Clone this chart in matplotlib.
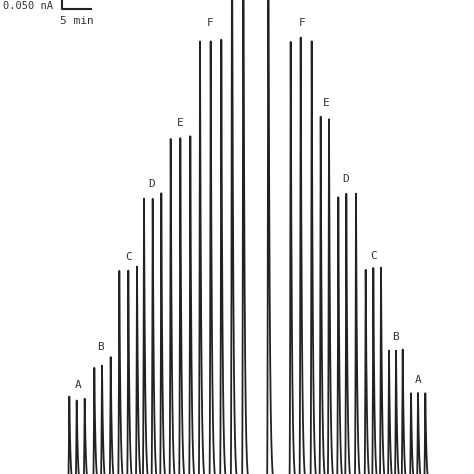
import numpy as np
import matplotlib
matplotlib.use("Agg")
import matplotlib.pyplot as plt

# peak retention positions (chart x units) and heights (above baseline)
peak_times = [69.3, 76.7, 84.7, 94.3, 102.0, 110.7, 119.3, 128.3, 137.0,
              144.0, 152.7, 161.3, 170.7, 180.3, 190.3, 200.0, 210.7, 221.3,
              232.0, 243.3, 268.3,
              290.7, 300.7, 311.7, 320.7, 329.0, 338.3, 346.3, 356.0,
              365.7, 373.3, 381.0, 389.0, 396.0, 402.7, 411.0, 418.0, 425.3]
peak_heights = [94, 90, 92, 123, 125, 134, 219, 221, 224,
                292, 294, 297, 354, 354, 355, 451, 451, 451,
                620, 620, 620,
                452, 455, 453, 373, 373, 293, 296, 297,
                221, 223, 224, 140, 140, 141, 97, 97, 97]
label_names = ["A", "B", "C", "D", "E", "F", "F", "E", "D", "C", "B", "A"]
label_x = [78, 101, 129, 152, 180, 210, 302, 326, 346, 374, 396, 418]
label_top = [390, 352, 262, 189, 128, 28, 28, 108, 184, 261, 342, 385]

BASE = 490
fig = plt.figure(figsize=(4.74, 4.74), dpi=100)
ax = fig.add_axes([0, 0, 1, 1])
ax.set_xlim(0, 474)
ax.set_ylim(0, 474)
ax.axis("off")

x = np.linspace(40, 460, 20000)
sig = np.zeros_like(x)
for t, h in zip(peak_times, peak_heights):
    d = x - t
    rise = np.where((d >= -1.3) & (d < 0), h * (1 + d / 1.3) ** 2, 0)
    fall = np.where(d >= 0, h * np.exp(-d / 1.2), 0)
    sig += rise + fall
ax.plot(x, 474 - (BASE - sig), color="#222222", lw=1.3)

for n, lx, ly in zip(label_names, label_x, label_top):
    ax.text(lx, 474 - ly, n, ha="center", va="bottom", fontsize=8,
            family="DejaVu Sans Mono", color="#333333")

# scale bar
ax.plot([62, 62, 91], [474, 474 - 9, 474 - 9], color="#222222", lw=1.5)
ax.text(3, 474 - 6, "0.050 nA", ha="left", va="center", fontsize=7.5,
        family="DejaVu Sans Mono", color="#333333")
ax.text(77, 474 - 21, "5 min", ha="center", va="center", fontsize=8,
        family="DejaVu Sans Mono", color="#333333")

fig.savefig("out.png", dpi=100, facecolor="white")
